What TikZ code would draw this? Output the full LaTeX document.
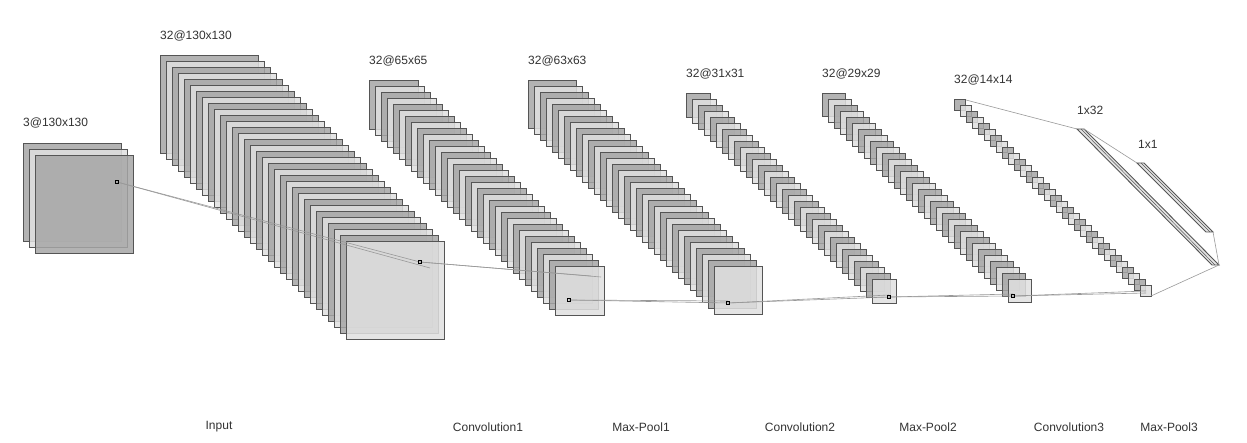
\documentclass[tikz,border=0pt]{standalone}
\usepackage{fontspec}
\setmainfont{Liberation Sans}
\definecolor{dk}{HTML}{A6A6A6}
\definecolor{lt}{HTML}{E0E0E0}
\definecolor{ed}{HTML}{555555}
\newcommand{\fmstack}[4]{%
  \foreach \i in {0,...,\numexpr#4-1\relax}{%
    \pgfmathsetmacro{\xx}{#1+6*\i}\pgfmathsetmacro{\yy}{#2+6*\i}%
    \ifodd\i \def\fc{lt}\else\def\fc{dk}\fi
    \draw[fmap,fill=\fc] (\xx,\yy) rectangle ++(#3,#3);
  }}
\tikzset{fmap/.style={draw=ed,line width=0.9pt,fill opacity=0.85},
  conn/.style={draw=gray!80,line width=0.6pt},
  lbl/.style={font=\fontsize{12}{14}\selectfont,text=black!80,inner sep=0pt},
  mark/.style={}}
\begin{document}
\begin{tikzpicture}[x=1pt,y=-1pt]
\useasboundingbox[fill=white] (0,0) rectangle (1247,443);
\fmstack{23}{143}{98}{3}
\fmstack{160}{55}{98}{32}
\fmstack{369}{80}{49}{32}
\fmstack{528}{80}{48}{32}
\fmstack{686}{93}{24}{32}
\fmstack{822}{93}{23}{32}
\fmstack{954}{99}{11}{32}
% dense layers
\draw[fmap,fill=lt] (1077,129) -- (1084,129) -- (1219,265) -- (1212,265) -- cycle;
\draw[ed,line width=0.5pt] (1081,129) -- (1215,265);
\draw[fmap,fill=lt] (1137,163) -- (1144,163) -- (1213,232) -- (1206,232) -- cycle;
\draw[ed,line width=0.5pt] (1141,163) -- (1210,232);
% connection points
\coordinate (a0) at (117,182);
\coordinate (b0) at (420,262); \coordinate (b1) at (430,268);
\coordinate (c0) at (591,276); \coordinate (c1) at (601,277);
\coordinate (d0) at (569,300); \coordinate (e0) at (728,303);
\coordinate (f0) at (889,297); \coordinate (g0) at (1013,296);
\coordinate (h0) at (1146,293); \coordinate (h1) at (1151,296);
\coordinate (s6) at (966,100);
\coordinate (p0) at (1077,129); \coordinate (p1) at (1084,129); \coordinate (p2) at (1219,265);
\coordinate (q0) at (1137,163); \coordinate (q1) at (1213,232);
\draw[conn] (a0) -- (b0); \draw[conn] (a0) -- (b1);
\draw[conn] (b0) -- (c0); \draw[conn] (b0) -- (c1);
\draw[conn] (d0) -- (e0); \draw[conn] (d0) -- ([yshift=2]e0);
\draw[conn] (e0) -- (f0); \draw[conn] (e0) -- ([yshift=2]f0);
\draw[conn] (f0) -- (g0); \draw[conn] (f0) -- ([yshift=2]g0);
\draw[conn] (g0) -- (h0); \draw[conn] (g0) -- ([yshift=2]h0);
\draw[conn] (s6) -- (p0); \draw[conn] (p1) -- (q0);
\draw[conn] (q1) -- (p2); \draw[conn] (p2) -- (h1);
\foreach \c in {a0,b0,d0,e0,f0,g0}{\draw[black,line width=0.4pt] ([shift={(-1.5,-1.5)}]\c) rectangle ++(3,3);}
% labels
\node[lbl,anchor=south west] (l0) at (23,128) {3@130x130};
\node[lbl,anchor=south west] (l1) at (160,41) {32@130x130};
\node[lbl,anchor=south west] (l2) at (369,66) {32@65x65};
\node[lbl,anchor=south west] (l3) at (528,66) {32@63x63};
\node[lbl,anchor=south west] (l4) at (686,79) {32@31x31};
\node[lbl,anchor=south west] (l5) at (822,79) {32@29x29};
\node[lbl,anchor=south west] (l6) at (954,85) {32@14x14};
\node[lbl,anchor=south west] (l7) at (1077,115) {1x32};
\node[lbl,anchor=south west] (l8) at (1138,149) {1x1};
\node[lbl] (t0) at (219,427) {Input};
\node[lbl] (t1) at (488,427) {Convolution1};
\node[lbl] (t2) at (641,427) {Max-Pool1};
\node[lbl] (t3) at (800,427) {Convolution2};
\node[lbl] (t4) at (928,427) {Max-Pool2};
\node[lbl] (t5) at (1069,427) {Convolution3};
\node[lbl] (t6) at (1169,427) {Max-Pool3};
\end{tikzpicture}
\end{document}
